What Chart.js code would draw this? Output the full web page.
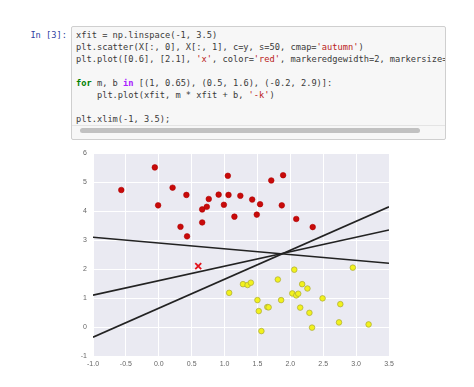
<!DOCTYPE html>
<html>
<head>
<meta charset="utf-8">
<script src="https://cdn.jsdelivr.net/npm/chart.js@4.4.1/dist/chart.umd.min.js"></script>
<style>
  body { margin: 0; background: #fff; width: 474px; height: 387px; position: relative; overflow: hidden; }
  .prompt { position: absolute; left: 6px; width: 61px; top: 29px; text-align: right;
            font: 8.7px/12px "DejaVu Sans Mono", monospace; color: #303F9F; }
  .cell { position: absolute; left: 71px; top: 26px; width: 375px; height: 114px; box-sizing: border-box;
          background: #f7f7f7; border: 1px solid #cfcfcf; border-radius: 2px; overflow: hidden; }
  .cell pre { margin: 0; position: absolute; left: 4px; top: 2px; white-space: pre;
              font: 8.7px/12px "DejaVu Sans Mono", monospace; color: #3a3a3a; }
  .kw { color: #008000; font-weight: bold; }
  .ow { color: #AA22FF; font-weight: bold; }
  .s { color: #BA2121; }
  .scroll-line { position: absolute; left: 0; right: 0; top: 98px; height: 1px; background: #e4e4e4; }
  .scroll-thumb { position: absolute; left: 8px; width: 340px; top: 101px; height: 5px; border-radius: 3px; background: #c1c1c1; }
  #chartWrap { position: absolute; left: 60px; top: 143px; }
</style>
</head>
<body>
<div class="prompt">In [3]:</div>
<div class="cell">
<pre>xfit = np.linspace(-1, 3.5)
plt.scatter(X[:, 0], X[:, 1], c=y, s=50, cmap=<span class="s">'autumn'</span>)
plt.plot([0.6], [2.1], <span class="s">'x'</span>, color=<span class="s">'red'</span>, markeredgewidth=2, markersize=10)

<span class="kw">for</span> m, b <span class="ow">in</span> [(1, 0.65), (0.5, 1.6), (-0.2, 2.9)]:
    plt.plot(xfit, m * xfit + b, <span class="s">'-k'</span>)

plt.xlim(-1, 3.5);</pre>
  <div class="scroll-line"></div>
  <div class="scroll-thumb"></div>
</div>
<div id="chartWrap"><canvas id="svmChart" width="340" height="232"></canvas></div>

<script>
/* ===============================
   DATA
================================ */
const redX = [-0.57, -0.06, -0.01, 0.21, 0.42, 0.33, 0.43, 0.66, 0.66, 0.73, 0.76, 0.91, 0.99,
              1.05, 1.06, 1.15, 1.24, 1.42, 1.49, 1.54, 1.71, 1.89, 1.87, 2.09, 2.34];
const redY = [4.73, 5.51, 4.20, 4.81, 4.56, 3.46, 3.13, 4.06, 3.61, 4.15, 4.42, 4.57, 4.22,
              5.22, 4.56, 3.81, 4.53, 4.40, 3.88, 4.24, 5.06, 5.24, 4.20, 3.73, 3.45];

const yellowX = [1.07, 1.28, 1.35, 1.40, 1.50, 1.52, 1.56, 1.65, 1.67, 1.81, 1.86, 2.06, 2.03,
                 2.09, 2.12, 2.18, 2.15, 2.26, 2.29, 2.33, 2.49, 2.76, 2.74, 2.95, 3.19];
const yellowY = [1.18, 1.48, 1.45, 1.53, 0.93, 0.55, -0.14, 0.69, 0.68, 1.64, 0.93, 1.98, 1.16,
                 1.09, 1.15, 1.48, 0.67, 1.33, 0.49, -0.02, 0.99, 0.79, 0.16, 2.05, 0.09];

const markX = [0.6];
const markY = [2.1];

// separating lines, y at the two ends of xfit
const lineX = [-1, 3.5];
const lineA = [-0.35, 4.15];
const lineB = [1.1, 3.35];
const lineC = [3.1, 2.2];

const xTicks = [-1, -0.5, 0, 0.5, 1, 1.5, 2, 2.5, 3, 3.5];
const yTicks = [-1, 0, 1, 2, 3, 4, 5, 6];

/* ===============================
   HELPERS
================================ */
function toPoints(xs, ys) {
  return xs.map((x, i) => ({ x: x, y: ys[i] }));
}

function lineDataset(ys) {
  return {
    data: toPoints(lineX, ys),
    showLine: true,
    borderColor: "#222222",
    borderWidth: 1.6,
    pointRadius: 0,
    order: 0
  };
}

const plotBackground = {
  id: "plotBackground",
  beforeDraw(chart) {
    const { ctx, chartArea } = chart;
    ctx.save();
    ctx.fillStyle = "#EAEAF2";
    ctx.fillRect(chartArea.left, chartArea.top,
      chartArea.right - chartArea.left, chartArea.bottom - chartArea.top);
    ctx.restore();
  }
};

const tickFont = { family: "'Liberation Sans', Arial, sans-serif", size: 7 };

/* ===============================
   CHART
================================ */
const ctx = document.getElementById("svmChart").getContext("2d");

new Chart(ctx, {
  type: "scatter",
  data: {
    datasets: [
      lineDataset(lineA),
      lineDataset(lineB),
      lineDataset(lineC),
      {
        data: toPoints(markX, markY),
        pointStyle: "crossRot",
        pointRadius: 4.2,
        borderColor: "#e3141c",
        borderWidth: 1.8,
        order: 1
      },
      {
        data: toPoints(redX, redY),
        pointRadius: 2.8,
        backgroundColor: "#c80a0a",
        borderColor: "#b00000",
        borderWidth: 0.6,
        order: 2
      },
      {
        data: toPoints(yellowX, yellowY),
        pointRadius: 2.8,
        backgroundColor: "#f2f21c",
        borderColor: "#a9a83a",
        borderWidth: 0.7,
        order: 2
      }
    ]
  },
  options: {
    responsive: false,
    animation: false,
    events: [],
    layout: { padding: { top: 10, right: 11, bottom: 0, left: 0 } },
    plugins: {
      legend: { display: false },
      tooltip: { enabled: false }
    },
    scales: {
      x: {
        min: -1,
        max: 3.5,
        afterFit: scale => { scale.height = 19; },
        afterBuildTicks: scale => { scale.ticks = xTicks.map(v => ({ value: v })); },
        grid: { color: "#ffffff", lineWidth: 1, drawTicks: false },
        border: { display: false },
        ticks: {
          padding: 4,
          color: "#666666",
          font: tickFont,
          maxRotation: 0,
          callback: v => Number(v).toFixed(1)
        }
      },
      y: {
        min: -1,
        max: 6,
        afterFit: scale => { scale.width = 33; },
        afterBuildTicks: scale => { scale.ticks = yTicks.map(v => ({ value: v })); },
        grid: { color: "#ffffff", lineWidth: 1, drawTicks: false },
        border: { display: false },
        ticks: {
          padding: 6,
          color: "#666666",
          font: tickFont,
          callback: v => v
        }
      }
    }
  },
  plugins: [plotBackground]
});
</script>
</body>
</html>
